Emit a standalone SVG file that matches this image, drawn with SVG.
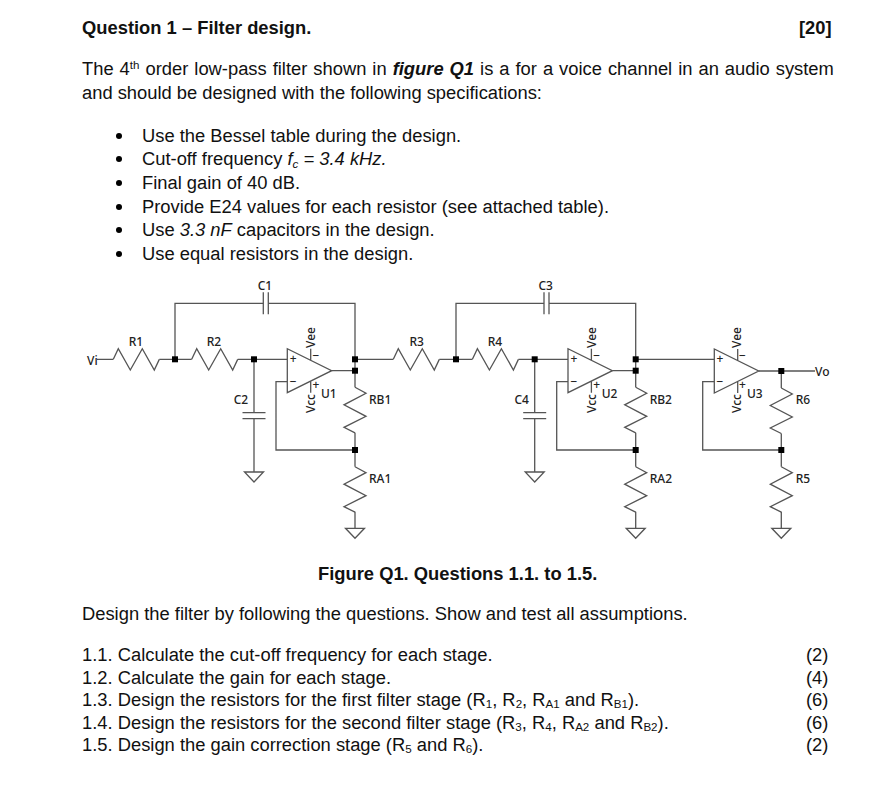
<svg xmlns="http://www.w3.org/2000/svg" xmlns:xlink="http://www.w3.org/1999/xlink" width="887" height="806" viewBox="0 0 887 806">
<style>
.t{font-family:"Liberation Sans",Arial,sans-serif;font-size:18.35px;fill:#111}
.b{font-weight:700}
.i{font-style:italic}
.s{font-size:11.6px}
.l{font-family:"Noto Sans",Tahoma,sans-serif;font-size:12px;font-weight:500;fill:#222}
.w{fill:none;stroke:#555;stroke-width:1.3}
.j{fill:#000}
</style>
<defs>
<path id="hres" class="w" d="M0 0l5-10.6 12 21.3 12-21.3 12 21.3 5-10.6"/>
<path id="vres" class="w" d="M0 0l11 6-22 11.5 22 11.5-22 11 11 5.5"/>
<path id="gnd" class="w" d="M-9.5 0H9.5L0 10Z"/>
<rect id="dot" class="j" x="-3" y="-3" width="6" height="6"/>
<path id="amp" class="w" d="M0 0V44L44.4 22ZM23.4 11.600V0M23.4 32.400V44"/>
<path id="capv" class="w" d="M-2.5-11V11M2.5-11V11"/>
<path id="caph" class="w" d="M-11.5 0H11.5M-11.5 6H11.5"/>
</defs>
<rect width="887" height="806" fill="#fff"/>

<g id="text">
<text class="t b" x="82" y="34">Question 1 – Filter design.</text>
<text class="t b" x="799" y="34">[20]</text>
<text class="t" x="82" y="75" word-spacing="0.9">The 4<tspan class="s" dy="-6">th</tspan><tspan dy="6"> order low-pass filter shown in </tspan><tspan class="b i">figure Q1</tspan> is a for a voice channel in an audio system</text>
<text class="t" x="82" y="99">and should be designed with the following specifications:</text>
<g id="bullets">
<circle cx="119" cy="136" r="3"/><circle cx="119" cy="159" r="3"/><circle cx="119" cy="183" r="3"/><circle cx="119" cy="207" r="3"/><circle cx="119" cy="230" r="3"/><circle cx="119" cy="254" r="3"/>
</g>
<text class="t" x="142" y="142">Use the Bessel table during the design.</text>
<text class="t" x="142" y="165">Cut-off frequency <tspan class="i">f</tspan><tspan class="i s" dy="3">c</tspan><tspan class="i" dy="-3"> = 3.4 kHz.</tspan></text>
<text class="t" x="142" y="189">Final gain of 40 dB.</text>
<text class="t" x="142" y="213">Provide E24 values for each resistor (see attached table).</text>
<text class="t" x="142" y="236">Use <tspan class="i">3.3 nF</tspan> capacitors in the design.</text>
<text class="t" x="142" y="260">Use equal resistors in the design.</text>
<text class="t b" x="318" y="580">Figure Q1. Questions 1.1. to 1.5.</text>
<text class="t" x="82" y="620">Design the filter by following the questions. Show and test all assumptions.</text>
<text class="t" x="82" y="661">1.1. Calculate the cut-off frequency for each stage.</text>
<text class="t" x="82" y="684">1.2. Calculate the gain for each stage.</text>
<text class="t" x="82" y="706">1.3. Design the resistors for the first filter stage (R<tspan class="s" dy="2">1</tspan><tspan dy="-2">, R</tspan><tspan class="s" dy="2">2</tspan><tspan dy="-2">, R</tspan><tspan class="s" dy="2">A1</tspan><tspan dy="-2"> and R</tspan><tspan class="s" dy="2">B1</tspan><tspan dy="-2">).</tspan></text>
<text class="t" x="82" y="729">1.4. Design the resistors for the second filter stage (R<tspan class="s" dy="2">3</tspan><tspan dy="-2">, R</tspan><tspan class="s" dy="2">4</tspan><tspan dy="-2">, R</tspan><tspan class="s" dy="2">A2</tspan><tspan dy="-2"> and R</tspan><tspan class="s" dy="2">B2</tspan><tspan dy="-2">).</tspan></text>
<text class="t" x="82" y="751">1.5. Design the gain correction stage (R<tspan class="s" dy="2">5</tspan><tspan dy="-2"> and R</tspan><tspan class="s" dy="2">6</tspan><tspan dy="-2">).</tspan></text>
<text class="t" x="806" y="661">(2)</text>
<text class="t" x="806" y="684">(4)</text>
<text class="t" x="806" y="706">(6)</text>
<text class="t" x="806" y="729">(6)</text>
<text class="t" x="806" y="751">(2)</text>
</g>

<g id="connectors">
<path class="w" d="M97 359.3H113.3M159.3 359.3H191.7M175 359.3V303.3H263.3M268.3 303.3H355V370.7M237.7 359.3H287.3M254 359.3V412.7M254 418.7V472M331.7 370.7H355V387.3M355 432.7V466.7M355 511.7V528.3M355 450H276V381.7H287.3M355 359.3H393.3"/>
<path class="w" d="M439.3 359.3H472.4M456 359.3V303.3H544M549 303.3H635.7V370.7M518.4 359.3H568M534.7 359.3V412.7M534.7 418.7V472M612.4 370.7H635.7V387.3M635.7 432.7V466.7M635.7 511.7V528.3M635.7 450H556.7V381.7H568M635.7 359.3H714.3"/>
<path class="w" d="M758.7 371H815M781.3 371V388M781.3 433.500V466.7M781.3 511.7V528.3M781.3 450H702.7V381.700H714.3"/>
</g>

<g id="R1"><use href="#hres" x="113.3" y="359.3"/><text class="l" x="136" y="346" text-anchor="middle">R1</text></g>
<g id="R2"><use href="#hres" x="191.7" y="359.3"/><text class="l" x="214" y="346" text-anchor="middle">R2</text></g>
<g id="R3"><use href="#hres" x="393.3" y="359.3"/><text class="l" x="416.700" y="346" text-anchor="middle">R3</text></g>
<g id="R4"><use href="#hres" x="472.4" y="359.3"/><text class="l" x="495" y="346" text-anchor="middle">R4</text></g>
<g id="C1"><use href="#capv" x="265.8" y="303.3"/><text class="l" x="265" y="290" text-anchor="middle">C1</text></g>
<g id="C3"><use href="#capv" x="546.5" y="303.3"/><text class="l" x="545.700" y="290" text-anchor="middle">C3</text></g>
<g id="C2"><use href="#caph" x="254" y="412.700"/><text class="l" x="241" y="404" text-anchor="middle">C2</text></g>
<g id="C4"><use href="#caph" x="534.7" y="412.700"/><text class="l" x="521.700" y="404" text-anchor="middle">C4</text></g>
<g id="U1"><use href="#amp" x="287.3" y="348.700"/><text class="l" x="321" y="398">U1</text><text class="l" transform="translate(315 348) rotate(-90)">Vee</text><text class="l" transform="translate(315 413) rotate(-90)">Vcc</text><text class="l" x="293.3" y="363" text-anchor="middle">+</text><text class="l" x="293.3" y="386" text-anchor="middle">−</text><text class="l" x="316" y="360" text-anchor="middle">−</text><text class="l" x="316" y="389" text-anchor="middle">+</text></g>
<g id="U2"><use href="#amp" x="568" y="348.700"/><text class="l" x="601.700" y="398">U2</text><text class="l" transform="translate(595.700 348) rotate(-90)">Vee</text><text class="l" transform="translate(595.700 413) rotate(-90)">Vcc</text><text class="l" x="574" y="363" text-anchor="middle">+</text><text class="l" x="574" y="386" text-anchor="middle">−</text><text class="l" x="596.700" y="360" text-anchor="middle">−</text><text class="l" x="596.700" y="389" text-anchor="middle">+</text></g>
<g id="U3"><use href="#amp" x="714.3" y="349"/><text class="l" x="747" y="398">U3</text><text class="l" transform="translate(741 348) rotate(-90)">Vee</text><text class="l" transform="translate(741 413) rotate(-90)">Vcc</text><text class="l" x="720" y="363" text-anchor="middle">+</text><text class="l" x="720" y="386" text-anchor="middle">−</text><text class="l" x="742.500" y="360" text-anchor="middle">−</text><text class="l" x="742.500" y="389" text-anchor="middle">+</text></g>
<g id="RB1"><use href="#vres" x="355" y="387.3"/><text class="l" x="369" y="404">RB1</text></g>
<g id="RA1"><use href="#vres" x="355" y="466.7"/><text class="l" x="369" y="483">RA1</text></g>
<g id="RB2"><use href="#vres" x="635.7" y="387.3"/><text class="l" x="649.700" y="404">RB2</text></g>
<g id="RA2"><use href="#vres" x="635.7" y="466.7"/><text class="l" x="649.700" y="483">RA2</text></g>
<g id="R6"><use href="#vres" x="781.3" y="388"/><text class="l" x="795.700" y="404">R6</text></g>
<g id="R5"><use href="#vres" x="781.3" y="466.7"/><text class="l" x="795.700" y="483">R5</text></g>
<g id="Vi"><text class="l" x="87" y="365">Vi</text></g>
<g id="Vo"><text class="l" x="815" y="376">Vo</text></g>
<g id="grounds">
<use href="#gnd" x="254" y="472"/><use href="#gnd" x="355" y="528.3"/><use href="#gnd" x="534.7" y="472"/><use href="#gnd" x="635.7" y="528.3"/><use href="#gnd" x="781.3" y="528.3"/>
</g>
<g id="junctions">
<use href="#dot" x="175" y="359.3"/><use href="#dot" x="254" y="359.3"/><use href="#dot" x="355" y="359.3"/><use href="#dot" x="355" y="370.7"/><use href="#dot" x="355" y="450"/>
<use href="#dot" x="456" y="359.3"/><use href="#dot" x="534.7" y="359.3"/><use href="#dot" x="635.7" y="359.3"/><use href="#dot" x="635.7" y="370.7"/><use href="#dot" x="635.7" y="450"/>
<use href="#dot" x="781.3" y="371"/><use href="#dot" x="781.3" y="450"/>
</g>
</svg>
